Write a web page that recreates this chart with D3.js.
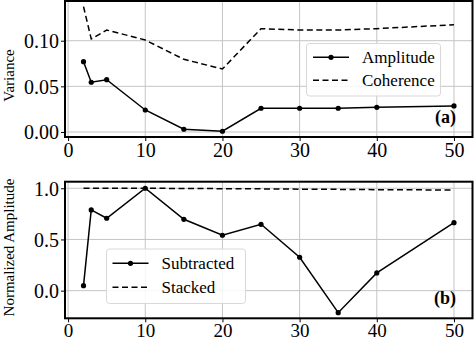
<!DOCTYPE html>
<html><head><meta charset="utf-8">
<script src="https://cdn.jsdelivr.net/npm/d3@7"></script>
<style>body{margin:0;background:#fff}svg{display:block}text{font-family:"Liberation Serif","Times New Roman",serif !important;fill:#000}</style>
</head><body><svg id="c" width="474" height="341"></svg>
<script>
const xs = [2,3,5,10,15,20,25,30,35,40,50];
const amplitude = [0.0770,0.0545,0.0573,0.0241,0.0030,0.0008,0.0260,0.0260,0.0260,0.0270,0.0285];
const coherence = [0.1373,0.1019,0.1117,0.1008,0.0796,0.0690,0.1132,0.1117,0.1117,0.1132,0.1175];
const subtracted = [0.049,0.788,0.707,1.0,0.697,0.541,0.648,0.326,-0.215,0.173,0.664];
const stacked = [1.0,1.0,1.0,1.0,0.998,0.996,0.994,0.991,0.989,0.986,0.983];
const xTicks = [0,10,20,30,40,50];
const yTicksA = [0.00,0.05,0.10];
const yTicksB = [0.0,0.5,1.0];

const svg = d3.select("#c");
const x = d3.scaleLinear().domain([-0.4,52.4]).range([65,472.5]);
const SERIF = '"Liberation Serif","Times New Roman",serif';

function panel(cfg){
  const y = d3.scaleLinear().domain(cfg.ydom).range([cfg.bottom,cfg.top]);
  const g = svg.append("g");
  g.selectAll(".gx").data(xTicks).enter().append("line")
    .attr("x1",d=>x(d)).attr("x2",d=>x(d)).attr("y1",cfg.top).attr("y2",cfg.bottom)
    .attr("stroke","#c4c4c4").attr("stroke-width",1);
  g.selectAll(".gy").data(cfg.yticks).enter().append("line")
    .attr("x1",x.range()[0]).attr("x2",x.range()[1]).attr("y1",d=>y(d)).attr("y2",d=>y(d))
    .attr("stroke","#c4c4c4").attr("stroke-width",1);
  const ax = g.append("g").attr("transform",`translate(0,${cfg.bottom})`)
    .call(d3.axisBottom(x).tickValues(xTicks).tickFormat(d3.format("d")).tickSize(4).tickPadding(cfg.xpad));
  const ay = g.append("g").attr("transform",`translate(${x.range()[0]},0)`)
    .call(d3.axisLeft(y).tickValues(cfg.yticks).tickFormat(d3.format(cfg.fmt)).tickSize(4).tickPadding(2));
  [ax,ay].forEach(a=>{a.attr("font-family",SERIF).attr("font-size",20);a.select(".domain").remove();a.selectAll("line").attr("stroke","#000");});
  ax.attr("font-size",cfg.xfs);
  ay.selectAll("text").attr("dy","0.34em");
  ax.selectAll("text").attr("dy","0.72em");
  const line = d3.line().x((d,i)=>x(xs[i])).y(d=>y(d));
  g.append("path").datum(cfg.s2).attr("d",line).attr("fill","none").attr("stroke","#000")
    .attr("stroke-width",1.5).attr("stroke-dasharray","6,3.5");
  g.append("path").datum(cfg.s1).attr("d",line).attr("fill","none").attr("stroke","#000").attr("stroke-width",1.5);
  g.selectAll(".m").data(cfg.s1).enter().append("circle")
    .attr("cx",(d,i)=>x(xs[i])).attr("cy",d=>y(d)).attr("r",2.6).attr("fill","#000");
  g.append("rect").attr("x",x.range()[0]).attr("y",cfg.top).attr("width",x.range()[1]-x.range()[0])
    .attr("height",cfg.bottom-cfg.top).attr("fill","none").attr("stroke","#000").attr("stroke-width",2);
  const L = cfg.legend;
  const lg = g.append("g").attr("font-family",SERIF);
  lg.append("rect").attr("x",L.x).attr("y",L.y).attr("width",L.w).attr("height",L.h).attr("rx",3)
    .attr("fill","rgba(255,255,255,0.85)").attr("stroke","#d8d8d8").attr("stroke-width",1);
  L.items.forEach((it,i)=>{
    const yy = L.ly + i*L.dy;
    lg.append("line").attr("x1",L.lx).attr("x2",L.lx+36).attr("y1",yy).attr("y2",yy)
      .attr("stroke","#000").attr("stroke-width",1.5).attr("stroke-dasharray",i===1?"6,3.5":null);
    if(i===0) lg.append("circle").attr("cx",L.lx+18).attr("cy",yy).attr("r",2.6).attr("fill","#000");
    lg.append("text").attr("x",L.lx+49).attr("y",yy+5.8).attr("font-size",17).text(it);
  });
  g.append("text").attr("x",456).attr("y",cfg.labY).attr("text-anchor","end")
    .attr("font-family",SERIF).attr("font-size",18).attr("font-weight","bold").text(cfg.lab);
  g.append("text").attr("transform",`translate(13.5,${cfg.titleY}) rotate(-90)`).attr("text-anchor","middle")
    .attr("font-family",SERIF).attr("font-size",15).text(cfg.title);
}

panel({ydom:[-0.0055,0.1435],top:1,bottom:137,yticks:yTicksA,fmt:".2f",s1:amplitude,s2:coherence,xpad:2,xfs:20,
  legend:{x:306.5,y:43.5,w:134,h:52.5,lx:313,ly:57.3,dy:23,items:["Amplitude","Coherence"]},
  lab:"(a)",labY:123,title:"Variance",titleY:75.5});
panel({ydom:[-0.27,1.064],top:181.7,bottom:318.3,yticks:yTicksB,fmt:".1f",s1:subtracted,s2:stacked,xpad:1,xfs:19,
  legend:{x:106.5,y:249,w:139,h:54.5,lx:112.5,ly:263.3,dy:24,items:["Subtracted","Stacked"]},
  lab:"(b)",labY:304,title:"Normalized Amplitude",titleY:247.5});
</script></body></html>
